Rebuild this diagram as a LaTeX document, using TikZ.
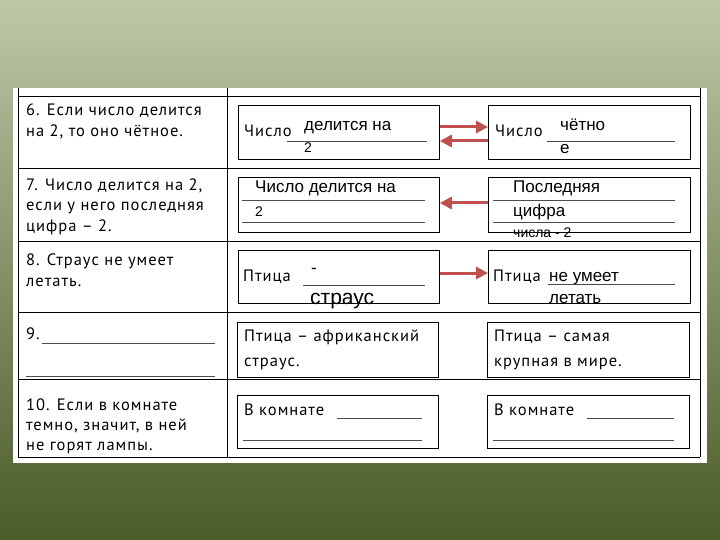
\documentclass[tikz,border=0pt]{standalone}
\usepackage{fontspec}
\setmainfont{PT Sans}[LetterSpace=6]
\newfontfamily\typed{Liberation Sans}
\usetikzlibrary{arrows.meta}
\definecolor{arrowred}{HTML}{C0504D}
\tikzset{
  box/.style    = {draw, thick, rectangle, inner sep=0pt},
  scan/.style   = {anchor=base west, inner sep=0pt, font=\fontsize{16.5}{18}\selectfont},
  ans/.style    = {anchor=base west, inner sep=0pt, font=\typed\fontsize{17}{19}\selectfont},
  rule/.style   = {thin, black!70},
  link/.style   = {draw=arrowred, line width=3pt, -{Triangle[length=12pt,width=12pt]}}
}
\begin{document}
\begin{tikzpicture}[x=1pt, y=-1pt]
\useasboundingbox (0,0) rectangle (720,540);
\shade[top color={rgb,255:red,190;green,200;blue,168}, bottom color={rgb,255:red,74;green,92;blue,40}] (0,0) rectangle (720,540);
\fill[white] (13,88) rectangle (707,463);

% Table
\draw[thick] (18,88) -- (18,457) (227,88) -- (227,457) (700,88) -- (700,457);
\foreach \y in {96,168,241,312,379,457} \draw[thick] (18,\y) -- (700,\y);

% Boxes
\node[box, minimum width=201, minimum height=54, anchor=north west] (l6) at (238,105) {};
\node[box, minimum width=202, minimum height=54, anchor=north west] (r6) at (488,105) {};
\node[box, minimum width=201, minimum height=55, anchor=north west] (l7) at (238,177) {};
\node[box, minimum width=202, minimum height=55, anchor=north west] (r7) at (488,177) {};
\node[box, minimum width=201, minimum height=53, anchor=north west] (l8) at (238,250) {};
\node[box, minimum width=202, minimum height=53, anchor=north west] (r8) at (488,250) {};
\node[box, minimum width=201, minimum height=55, anchor=north west] (l9) at (237,322) {};
\node[box, minimum width=202, minimum height=55, anchor=north west] (r9) at (487,322) {};
\node[box, minimum width=201, minimum height=53, anchor=north west] (l10) at (237,395) {};
\node[box, minimum width=202, minimum height=53, anchor=north west] (r10) at (487,395) {};

% Left column
\node[scan] (q6a) at (26,116) {6. Если число делится};
\node[scan] (q6b) at (26,137) {на 2, то оно чётное.};
\node[scan] (q7a) at (26,191) {7. Число делится на 2,};
\node[scan] (q7b) at (26,211) {если у него последняя};
\node[scan] (q7c) at (26,231) {цифра -- 2.};
\node[scan] (q8a) at (26,265) {8. Страус не умеет};
\node[scan] (q8b) at (26,286) {летать.};
\node[scan] (q9) at (26,339) {9.};
\draw[rule] (42,343) -- (215,343) (26,376) -- (215,376);
\node[scan] (q10a) at (26,410) {10. Если в комнате};
\node[scan] (q10b) at (26,430) {темно, значит, в ней};
\node[scan] (q10c) at (26,450) {не горят лампы.};

% Row 6
\node[scan] (c6l) at (244,137) {Число};
\draw[rule] (287,141) -- (427,141);
\node[ans] (a6l) at (304,131) {делится на};
\node[ans, font=\typed\fontsize{14}{16}\selectfont] (a6l2) at (304,153) {2};
\node[scan] (c6r) at (495,137) {Число};
\draw[rule] (547,141) -- (675,141);
\node[ans] (a6r) at (560,131) {чётно};
\node[ans] (a6r2) at (560,154) {е};

% Row 7
\draw[rule] (242,200) -- (425,200) (242,222) -- (425,222);
\draw[rule] (493,200) -- (675,200) (493,222) -- (675,222);
\node[ans] (a7l) at (255,193) {Число делится на};
\node[ans, font=\typed\fontsize{14}{16}\selectfont] (a7l2) at (255,216) {2};
\node[ans] (a7r) at (513,193) {Последняя};
\node[ans] (a7r2) at (513,216) {цифра};
\node[ans, font=\typed\fontsize{14}{16}\selectfont] (a7r3) at (513,237) {числа - 2};

% Row 8
\node[scan] (c8l) at (243,281) {Птица};
\draw[rule] (303,285) -- (425,285);
\node[ans] (a8l) at (311,273) {-};
\node[ans, font=\typed\fontsize{21}{23}\selectfont] (a8l2) at (310,304) {страус};
\node[scan] (c8r) at (493,281) {Птица};
\node[ans] (a8r) at (549,281) {не умеет};
\draw[rule] (548,284) -- (675,284);
\node[ans] (a8r2) at (549,303) {летать};

% Row 9
\node[scan] (c9l) at (244,341) {Птица -- африканский};
\node[scan] (c9l2) at (244,366) {страус.};
\node[scan] (c9r) at (494,341) {Птица -- самая};
\node[scan] (c9r2) at (494,366) {крупная в мире.};

% Row 10
\node[scan] (c10l) at (244,415) {В комнате};
\draw[rule] (337,418) -- (422,418) (243,440) -- (422,440);
\node[scan] (c10r) at (494,415) {В комнате};
\draw[rule] (587,418) -- (674,418) (493,440) -- (674,440);

% Connections
\draw[link] (l6.east |- 0,127) -- (r6.west |- 0,127);
\draw[link] (r6.west |- 0,141) -- (l6.east |- 0,141);
\draw[link] (r7.west |- 0,203) -- (l7.east |- 0,203);
\draw[link] (l8.east |- 0,273) -- (r8.west |- 0,273);

\end{tikzpicture}
\end{document}
